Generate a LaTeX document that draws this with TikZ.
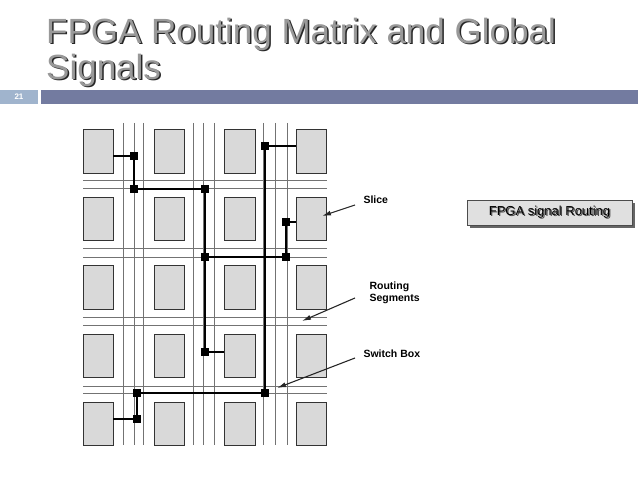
\documentclass[tikz,border=0pt]{standalone}
\usepackage{fontspec}
\setmainfont{Liberation Sans}
\usetikzlibrary{arrows.meta}
\begin{document}
\begin{tikzpicture}[x=1pt,y=-1pt,
  slice/.style={draw=black!80,fill=black!15,line width=0.8pt},
  chan/.style={draw=black!55,line width=0.5pt},
  wire/.style={draw=black,line width=2pt},
  sw/.style={fill=black,minimum size=8pt,inner sep=0pt},
  lbl/.style={font=\bfseries\fontsize{10.5}{12.5}\selectfont,align=left,anchor=west},
  arr/.style={draw=black!85,line width=1.1pt,-{Latex[length=9pt,width=5pt]}}]
\useasboundingbox (0,0) rectangle (638,478);
% title
\foreach \t/\yy in {{FPGA Routing Matrix and Global}/34,{Signals}/70}{
  \node[anchor=west,font=\fontsize{35}{40}\selectfont,text=black!85,inner sep=0] at (47.5,\yy+1.5) {\t};
  \node[anchor=west,font=\fontsize{35}{40}\selectfont,text=black!40,inner sep=0] (t) at (46,\yy) {\t};
}
\fill[fill={rgb,255:red,160;green,180;blue,205}] (0,90) rectangle (38,104);
\node[font=\bfseries\fontsize{8}{9}\selectfont,text=white] (num) at (19,97) {21};
\fill[fill={rgb,255:red,115;green,123;blue,160}] (41,90) rectangle (638,104);
% channels
\foreach \x in {123,134,143,193,203,214,263,275,287}
  \draw[chan] (\x,123) -- (\x,445);
\foreach \y in {180,188,248,257,317,325,386,393}
  \draw[chan] (83,\y) -- (327,\y);
% slices
\foreach \xa/\xb [count=\i] in {83/113,154/184,224/255,296/326}
  \foreach \ya/\yb [count=\j] in {129/173,197/240,265/309,334/377,402/445}
    \path[slice] (\xa,\ya) rectangle (\xb,\yb) coordinate (s\i\j);
% switch boxes
\node[sw] (a) at (134,156) {};
\node[sw] (b) at (134,189) {};
\node[sw] (c) at (205,189) {};
\node[sw] (d) at (205,257) {};
\node[sw] (e) at (205,352) {};
\node[sw] (f) at (265,146) {};
\node[sw] (g) at (286,222) {};
\node[sw] (h) at (286,257) {};
\node[sw] (i) at (265,393) {};
\node[sw] (j) at (137,393) {};
\node[sw] (k) at (137,419) {};
\coordinate (p1) at (113,156);
\coordinate (p2) at (224,352);
\coordinate (p3) at (296,146);
\coordinate (p4) at (296,222);
\coordinate (p5) at (113,419);
\draw[wire] (p1) -- (a.center) -- (b.center) -- (c.center) -- (d.center) -- (e.center) -- (p2);
\draw[wire] (d.center) -- (h.center) -- (g.center) -- (p4);
\draw[wire] (p3) -- (f.center) -- (i.center) -- (j.center) -- (k.center) -- (p5);
\foreach \n in {a,b,c,d,e,f,g,h,i,j,k} \node[sw] at (\n) {};
% labels
\node[lbl] (ls) at (360,200) {Slice};
\node[lbl] (lr) at (366,293) {Routing\\Segments};
\node[lbl] (lb) at (360,354) {Switch Box};
\coordinate (as) at (322,216);
\coordinate (ar) at (302,321);
\coordinate (ab) at (277,388);
\draw[arr] (355,205) -- (as);
\draw[arr] (355,298) -- (ar);
\draw[arr] (355,358) -- (ab);
% right box
\fill[black!60] (470,203) rectangle (635,228);
\draw[fill=black!12,draw=black!70] (467,200) rectangle (632,225);
\node[font=\fontsize{13}{15}\selectfont,text=black!70] at (550.8,213.3) {FPGA signal Routing};
\node[font=\fontsize{13}{15}\selectfont,text=black] (rb) at (549.5,212.5) {FPGA signal Routing};
\end{tikzpicture}
\end{document}
